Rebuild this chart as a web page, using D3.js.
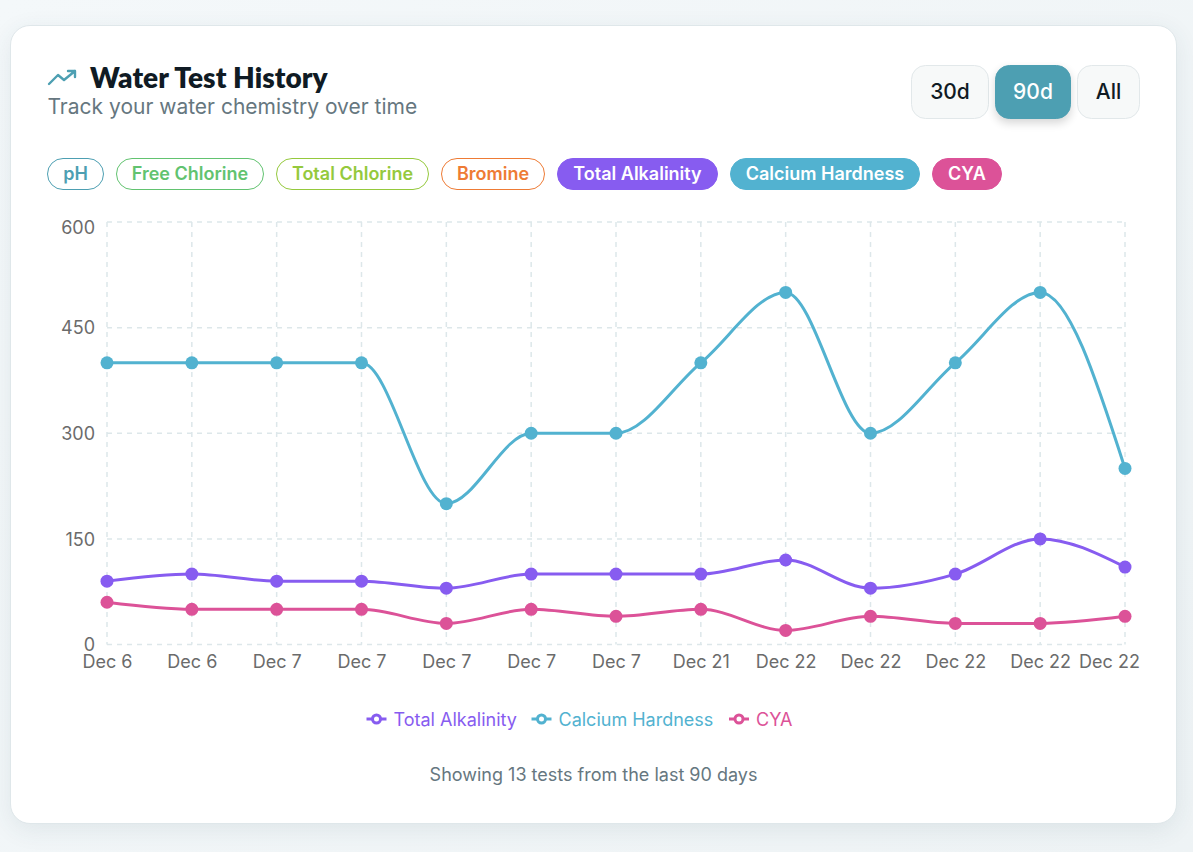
<!DOCTYPE html>
<html>
<head>
<meta charset="utf-8">
<script src="https://cdn.jsdelivr.net/npm/d3@7/dist/d3.min.js"></script>
<style>
  html, body { margin: 0; padding: 0; width: 1193px; height: 852px; overflow: hidden; }
  body { background: linear-gradient(135deg, #f4f8fa 0%, #eef3f5 100%); font-family: Inter, sans-serif; }
  #card { position: absolute; left: 10px; top: 25px; width: 1165px; height: 797px; background: #fff;
          border: 1px solid #dfe7ea; border-radius: 20px; box-shadow: 0 6px 24px rgba(40,80,90,.09); }
  svg { position: absolute; left: 0; top: 0; }
  text { font-family: Inter, sans-serif; }
</style>
</head>
<body>
<div id="card"></div>
<svg id="chart" width="1193" height="852"></svg>
<script>
// Test dates, one per x position
const testDates = ["Dec 6","Dec 6","Dec 7","Dec 7","Dec 7","Dec 7","Dec 7","Dec 21","Dec 22","Dec 22","Dec 22","Dec 22","Dec 22"];
// Measured parameters
const totalAlkalinity = [90,100,90,90,80,100,100,100,120,80,100,150,110];
const calciumHardness = [400,400,400,400,200,300,300,400,500,300,400,500,250];
const cya = [60,50,50,50,30,50,40,50,20,40,30,30,40];
const yTicks = [0,150,300,450,600];
const ranges = ["30d","90d","All"];
const activeRange = "90d";
const parameters = ["pH","Free Chlorine","Total Chlorine","Bromine","Total Alkalinity","Calcium Hardness","CYA"];
const parameterColors = ["#4d9fb2","#62c370","#95c93d","#ee7b35","#875cf0","#52b2d0","#dc5298"];
const parameterActive = [false,false,false,false,true,true,true];
const parameterBoxes = [[47,104],[116,264],[276,429],[441,545],[557,718],[730,920],[932,1002]];
const rangeBoxes = [[911,989],[995,1071],[1077,1140]];

const svg = d3.select("#chart");

// Heading
svg.append("path")
  .attr("d","M49 84 L58 75 L64 80 L75 71 M68 71 H75 V77")
  .attr("fill","none").attr("stroke","#4d9fb2").attr("stroke-width",2.4)
  .attr("stroke-linecap","round").attr("stroke-linejoin","round");
svg.append("text").attr("x",90).attr("y",88).text("Water Test History")
  .style("font-family","Lato, sans-serif").style("font-weight",800).style("font-size","28px")
  .style("letter-spacing","0.08px").attr("fill","#101b24");
svg.append("text").attr("x",47.5).attr("y",114).text("Track your water chemistry over time")
  .style("font-size","21px").attr("fill","#66777f");

// Time range buttons
ranges.forEach((r,i)=>{
  const on = r===activeRange, [a,b]=rangeBoxes[i];
  if(on){
    svg.append("rect").attr("x",a).attr("y",69).attr("width",b-a).attr("height",54).attr("rx",14)
      .attr("fill","#000").attr("opacity",.16).style("filter","blur(5px)");
  }
  svg.append("rect").attr("x",a+.5).attr("y",65.5).attr("width",b-a-1).attr("height",53).attr("rx",14)
    .attr("fill",on?"#4d9fb2":"#f7f9f9").attr("stroke",on?"#4d9fb2":"#e2e8ea");
  svg.append("text").attr("x",(a+b)/2).attr("y",99).attr("text-anchor","middle").text(r)
    .style("font-size","21px").style("font-weight",500).attr("fill",on?"#fff":"#101b24");
});

// Parameter toggles
parameters.forEach((p,i)=>{
  const [a,b]=parameterBoxes[i], on=parameterActive[i], c=parameterColors[i];
  svg.append("rect").attr("x",a+.5).attr("y",158.5).attr("width",b-a-1).attr("height",31).attr("rx",15.5)
    .attr("fill",on?c:"#fff").attr("stroke",c);
  svg.append("text").attr("x",(a+b)/2).attr("y",180).attr("text-anchor","middle").text(p)
    .style("font-size","18px").style("font-weight",600).attr("fill",on?"#fff":c);
});

// Scales
const x = d3.scalePoint().domain(d3.range(testDates.length)).range([107,1125]);
const y = d3.scaleLinear().domain([0,600]).range([644.5,222]);

// Grid
const grid = svg.append("g").attr("stroke","#dde7ea").attr("stroke-width",1.5).attr("stroke-dasharray","5 5").attr("fill","none");
yTicks.forEach(t=>grid.append("line").attr("x1",107).attr("x2",1125).attr("y1",y(t)).attr("y2",y(t)));
testDates.forEach((_,i)=>grid.append("line").attr("x1",x(i)).attr("x2",x(i)).attr("y1",222).attr("y2",644.5));

// Axes
const yAxis = d3.axisLeft(y).tickValues(yTicks).tickSize(0).tickPadding(0);
const yG = svg.append("g").attr("transform","translate(95,0)").call(yAxis);
yG.select(".domain").remove();
yG.selectAll("text").style("font-size","18px").attr("fill","#6b6b6b").attr("dy","0.35em")
  .attr("y",d=>d===600?5.5:0);

const xAxis = d3.axisBottom(x).tickFormat(i=>testDates[i]).tickSize(0).tickPadding(0);
const xG = svg.append("g").attr("transform","translate(0,655)").call(xAxis);
xG.select(".domain").remove();
xG.selectAll("text").style("font-size","18px").attr("fill","#6b6b6b").attr("dy","0.71em")
  .attr("x",i=>i===testDates.length-1?-16:0);

// Series lines and dots
const line = d3.line().x((d,i)=>x(i)).y(d=>y(d)).curve(d3.curveMonotoneX);
const series = [
  {name:"Total Alkalinity", values:totalAlkalinity, color:"#875cf0"},
  {name:"Calcium Hardness", values:calciumHardness, color:"#52b2d0"},
  {name:"CYA", values:cya, color:"#dc5298"}
];
series.forEach(s=>{
  svg.append("path").attr("d",line(s.values)).attr("fill","none").attr("stroke",s.color).attr("stroke-width",3);
  svg.append("g").selectAll("circle").data(s.values).join("circle")
    .attr("cx",(d,i)=>x(i)).attr("cy",d=>y(d)).attr("r",6.5).attr("fill",s.color);
});

// Legend
const legendX = [366.5,531.5,729];
series.forEach((s,i)=>{
  const g = svg.append("g").attr("transform",`translate(${legendX[i]},719)`);
  g.append("line").attr("x1",0).attr("x2",20).attr("stroke",s.color).attr("stroke-width",3);
  g.append("circle").attr("cx",10).attr("r",4).attr("fill","#fff").attr("stroke",s.color).attr("stroke-width",3);
  g.append("text").attr("x",27).attr("y",6.5).text(s.name).style("font-size","18px").attr("fill",s.color);
});

// Footer note
svg.append("text").attr("x",593.5).attr("y",781).attr("text-anchor","middle")
  .text(`Showing ${testDates.length} tests from the last 90 days`)
  .style("font-size","18px").attr("fill","#66777f");
</script>
</body>
</html>
